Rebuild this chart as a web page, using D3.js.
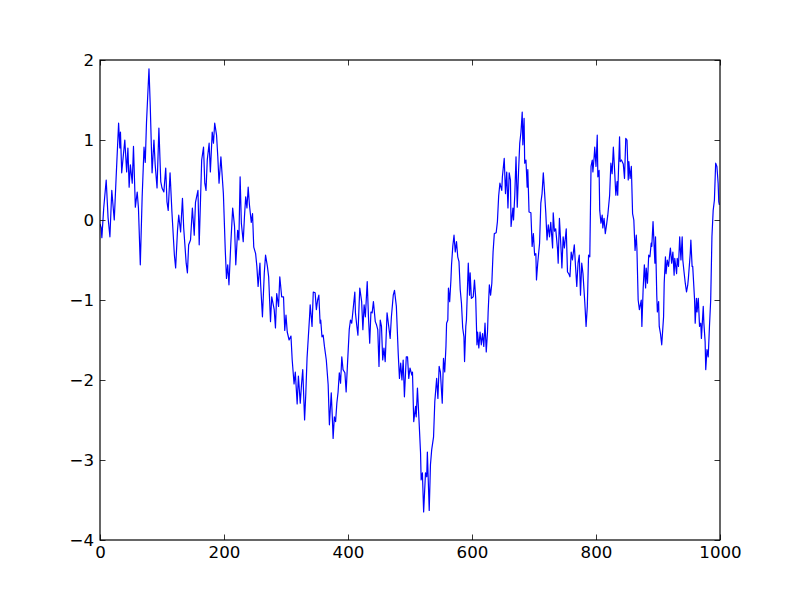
<!DOCTYPE html>
<html>
<head>
<meta charset="utf-8">
<script src="https://cdn.jsdelivr.net/npm/d3@7"></script>
<style>
  html, body { margin: 0; padding: 0; background: #ffffff; }
  svg { display: block; }
  text { font-family: "DejaVu Sans", sans-serif; }
</style>
</head>
<body>
<svg id="chart" width="800" height="600"></svg>
<script>
// Sample index (x) and walk value (y)
const steps = [0,2,3,6,10,13,16,19,23,26,30,32,33,35,40,43,45,47,49,52,54,57,60,62,65,68,71,73,75,79,81,84,87,89,92,95,98,100,103,106,108,110,113,116,120,122,125,127,130,133,135,139,141,143,146,149,152,154,158,160,164,167,169,171,173,176,178,181,183,185,188,190,192,195,197,199,202,204,206,208,211,214,217,219,222,224,226,228,231,233,235,237,239,241,244,246,248,251,253,255,258,259,262,265,267,270,272,275,277,281,283,285,288,290,293,296,298,300,302,305,308,310,313,315,318,320,323,325,327,330,332,334,338,339,342,344,347,349,351,353,355,356,358,360,362,365,368,370,373,375,376,378,380,382,384,386,388,390,392,395,397,399,402,404,406,409,411,412,414,416,418,419,422,424,426,428,431,433,435,437,439,441,444,446,448,450,452,454,456,458,460,463,466,468,470,473,475,478,481,483,485,487,489,491,494,496,498,500,503,504,506,509,510,512,515,517,518,520,522,525,527,528,531,533,535,538,540,543,545,547,549,552,554,556,558,559,561,562,564,566,567,569,571,573,575,577,579,581,583,585,587,588,590,591,594,596,597,599,602,604,606,608,609,611,613,615,617,619,621,623,625,626,628,630,632,634,636,639,641,643,645,648,649,652,654,656,658,660,662,663,666,667,669,671,673,675,677,679,681,682,684,685,687,689,690,692,695,697,699,701,703,704,706,709,711,713,715,717,719,721,723,725,727,730,731,733,735,738,739,741,744,745,747,749,752,754,756,758,760,762,765,767,769,771,773,775,777,779,782,784,786,788,790,792,794,795,797,798,800,802,803,805,806,808,810,811,813,815,817,819,822,824,826,828,830,832,834,835,838,839,841,844,846,848,850,852,853,855,857,859,861,863,865,866,868,870,873,874,876,878,880,881,883,885,887,889,890,892,895,896,898,899,901,902,904,906,909,910,912,913,915,917,919,920,922,924,926,927,930,931,933,935,937,939,940,942,944,946,948,949,952,953,955,956,959,960,962,963,965,967,969,970,973,974,976,977,979,981,983,985,987,989,991,993,995,997,998,999];
const values = [-0.05,-0.1,-0.22,0.15,0.5,0.03,-0.21,0.37,0.0,0.53,1.21,0.9,1.1,0.59,1.0,0.6,0.9,0.41,0.69,0.46,0.92,0.16,0.35,0.15,-0.56,0.29,0.91,0.72,1.22,1.89,1.44,0.59,1.0,0.69,0.4,1.15,0.48,0.4,0.35,0.65,0.23,0.12,0.59,0.1,-0.44,-0.6,-0.13,0.06,-0.15,0.27,-0.1,-0.54,-0.66,-0.31,-0.25,0.15,-0.19,0.22,0.37,-0.31,0.75,0.91,0.46,0.37,0.75,0.96,0.6,1.1,0.96,1.21,1.06,0.79,0.46,0.79,0.56,0.33,-0.37,-0.73,-0.56,-0.81,-0.29,0.15,-0.08,-0.56,-0.13,-0.25,0.54,-0.04,-0.27,0.04,0.29,0.15,0.41,0.19,-0.03,0.08,-0.34,-0.42,-0.58,-0.83,-0.54,-0.79,-1.21,-0.66,-0.44,-0.58,-0.71,-1.27,-0.96,-1.12,-1.35,-0.92,-1.08,-0.71,-0.96,-0.96,-1.38,-1.19,-1.4,-1.5,-1.45,-1.75,-2.05,-1.9,-2.3,-1.95,-2.29,-2.06,-1.87,-2.5,-2.16,-1.72,-1.21,-1.06,-1.33,-0.9,-0.91,-1.12,-1.0,-0.94,-1.29,-1.25,-1.46,-1.44,-1.58,-1.75,-2.06,-2.56,-2.16,-2.52,-2.73,-2.46,-2.52,-2.29,-2.15,-1.91,-2.04,-1.71,-1.87,-1.91,-2.15,-1.83,-1.37,-1.25,-1.29,-1.06,-0.9,-1.16,-1.31,-1.44,-1.04,-0.85,-1.02,-1.37,-1.06,-1.21,-0.77,-1.21,-1.54,-1.15,-1.16,-1.02,-1.27,-1.31,-1.37,-1.83,-1.25,-1.33,-1.75,-1.6,-1.77,-1.16,-1.35,-1.48,-1.21,-0.94,-0.88,-1.08,-1.67,-1.98,-1.79,-2.0,-1.75,-2.21,-1.71,-1.71,-1.98,-1.85,-1.94,-1.9,-2.52,-2.33,-2.46,-2.1,-2.58,-2.91,-3.25,-3.16,-3.65,-3.16,-3.21,-2.9,-3.63,-3.06,-2.87,-2.71,-2.27,-1.98,-2.23,-1.83,-1.9,-2.29,-1.73,-1.9,-1.58,-1.29,-1.25,-0.85,-1.02,-0.75,-0.56,-0.33,-0.19,-0.4,-0.27,-0.46,-0.52,-0.87,-1.04,-1.35,-1.46,-1.77,-1.33,-1.25,-0.54,-0.94,-0.66,-0.98,-0.96,-0.75,-0.98,-1.56,-1.4,-1.6,-1.4,-1.56,-1.42,-1.58,-1.29,-1.65,-1.4,-1.16,-0.81,-0.94,-0.79,-0.4,-0.17,-0.16,-0.02,0.3,0.46,0.37,0.54,0.77,0.33,0.6,0.15,0.59,0.5,-0.08,0.15,0.0,0.31,0.79,0.16,0.59,0.96,1.1,1.35,0.94,1.27,0.71,0.75,0.41,0.63,0.1,0.09,-0.33,-0.17,-0.44,-0.42,-0.75,-0.54,-0.29,0.21,0.33,0.59,0.35,0.09,-0.25,-0.06,-0.21,-0.03,-0.35,0.09,-0.14,-0.11,-0.37,-0.54,0.02,-0.42,-0.6,-0.21,-0.35,-0.11,-0.65,-0.67,-0.71,-0.4,-0.5,-0.31,-0.58,-0.83,-0.54,-0.44,-0.94,-0.54,-0.67,-1.04,-1.33,-1.08,-0.44,-0.46,0.67,0.75,0.6,0.79,0.91,0.67,1.06,0.54,0.62,0.12,-0.04,0.06,-0.1,0.02,-0.17,-0.06,0.06,0.31,0.71,0.58,0.91,0.62,0.31,0.48,0.31,1.04,0.73,0.75,0.7,0.52,1.02,1.0,0.5,0.73,0.52,0.67,0.08,0.0,-0.38,-0.19,-0.36,-1.0,-1.12,-1.0,-1.33,-0.87,-0.56,-0.85,-0.6,-0.79,-0.44,-0.46,-0.29,-0.33,-0.02,-0.54,-0.21,-0.94,-1.15,-1.02,-1.33,-1.42,-1.56,-1.21,-0.79,-0.46,-0.67,-0.5,-0.58,-0.42,-0.35,-0.54,-0.4,-0.69,-0.48,-0.67,-0.48,-0.58,-0.21,-0.5,-0.21,-0.5,-0.65,-0.79,-0.9,-0.81,-0.73,-0.42,-0.25,-0.58,-0.58,-1.0,-1.29,-0.98,-1.15,-0.98,-1.33,-1.29,-1.48,-1.08,-1.29,-1.52,-1.87,-1.62,-1.71,-1.33,-1.0,-0.21,0.12,0.25,0.71,0.67,0.46,0.23,0.19];

const xTicks = [0, 200, 400, 600, 800, 1000];
const yTicks = [-4, -3, -2, -1, 0, 1, 2];
const xDomain = [0, 1000];
const yDomain = [-4, 2];

const W = 800, H = 600;
const margin = { left: 100, right: 80, top: 60, bottom: 60 };
const iw = W - margin.left - margin.right;
const ih = H - margin.top - margin.bottom;

const svg = d3.select("#chart");
svg.append("rect").attr("width", W).attr("height", H).attr("fill", "#ffffff");

const g = svg.append("g").attr("transform", `translate(${margin.left},${margin.top})`);

const x = d3.scaleLinear().domain(xDomain).range([0, iw]);
const y = d3.scaleLinear().domain(yDomain).range([ih, 0]);

g.append("clipPath").attr("id", "clip")
  .append("rect").attr("width", iw).attr("height", ih);

const data = steps.map((s, i) => ({ s, v: values[i] }));
const line = d3.line().x(d => x(d.s)).y(d => y(d.v));

g.append("path")
  .datum(data)
  .attr("clip-path", "url(#clip)")
  .attr("fill", "none")
  .attr("stroke", "#0000ff")
  .attr("stroke-width", 1.2)
  .attr("stroke-linejoin", "round")
  .attr("d", line);

const tickLen = 5.5;
const fontSize = "16.67px";
const fmt = d3.format("d");

function styleAxis(sel) {
  sel.select(".domain").remove();
  sel.selectAll(".tick line").attr("stroke", "#000").attr("stroke-width", 0.8);
  sel.selectAll(".tick text").attr("fill", "#000")
    .style("font-family", '"DejaVu Sans", sans-serif')
    .style("font-size", fontSize);
}

g.append("g").attr("transform", `translate(0,${ih})`)
  .call(d3.axisBottom(x).tickValues(xTicks).tickFormat(fmt).tickSizeInner(-tickLen).tickSizeOuter(0).tickPadding(6))
  .call(styleAxis);

g.append("g")
  .call(d3.axisTop(x).tickValues(xTicks).tickFormat("").tickSizeInner(-tickLen).tickSizeOuter(0))
  .call(styleAxis);

g.append("g")
  .call(d3.axisLeft(y).tickValues(yTicks).tickFormat(fmt).tickSizeInner(-tickLen).tickSizeOuter(0).tickPadding(6))
  .call(styleAxis);

g.append("g").attr("transform", `translate(${iw},0)`)
  .call(d3.axisRight(y).tickValues(yTicks).tickFormat("").tickSizeInner(-tickLen).tickSizeOuter(0))
  .call(styleAxis);

g.append("rect")
  .attr("x", 0).attr("y", 0).attr("width", iw).attr("height", ih)
  .attr("fill", "none").attr("stroke", "#000").attr("stroke-width", 1.2);
</script>
</body>
</html>
